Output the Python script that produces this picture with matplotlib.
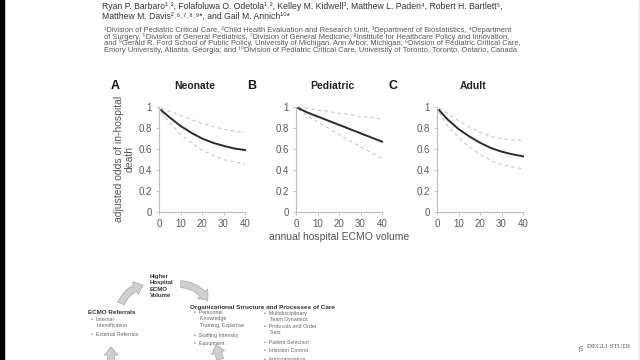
import numpy as np
import matplotlib
matplotlib.use("Agg")
import matplotlib.pyplot as plt
from matplotlib.patches import Rectangle, FancyArrowPatch

plt.rcParams['font.family'] = ['Liberation Sans', 'DejaVu Sans']

# ---- data ----
volume = [1, 5, 10, 15, 20, 25, 30, 35, 40]

neo_odds = [0.97, 0.90, 0.82, 0.755, 0.70, 0.66, 0.63, 0.605, 0.59]
neo_hi = [0.99, 0.96, 0.92, 0.88, 0.845, 0.815, 0.79, 0.77, 0.755]
neo_lo = [0.95, 0.85, 0.74, 0.66, 0.59, 0.54, 0.50, 0.475, 0.46]

ped_odds = [0.99, 0.95, 0.91, 0.87, 0.83, 0.79, 0.75, 0.71, 0.67]
ped_hi = [1.0, 0.99, 0.97, 0.96, 0.94, 0.93, 0.91, 0.90, 0.885]
ped_lo = [0.98, 0.92, 0.86, 0.80, 0.74, 0.68, 0.62, 0.565, 0.51]

adu_odds = [0.97, 0.88, 0.79, 0.72, 0.66, 0.61, 0.575, 0.55, 0.53]
adu_hi = [0.99, 0.94, 0.87, 0.81, 0.76, 0.72, 0.70, 0.685, 0.68]
adu_lo = [0.95, 0.82, 0.71, 0.62, 0.55, 0.49, 0.45, 0.43, 0.41]

panels = [('A', 'Neonate', neo_odds, neo_hi, neo_lo),
          ('B', 'Pediatric', ped_odds, ped_hi, ped_lo),
          ('C', 'Adult', adu_odds, adu_hi, adu_lo)]
panel_left = [159, 296, 437]   # pixel x of volume = 0

W, H = 640, 360
fig = plt.figure(figsize=(6.4, 3.6), dpi=100)
fig.patch.set_facecolor('white')

def fx(px):
    return px / W

def fy(py):
    return 1 - py / H

# black strip at left edge of the screenshot, faint line at right
fig.add_artist(Rectangle((0, 0), fx(4), 1, transform=fig.transFigure,
                         color='black', zorder=5))
fig.add_artist(Rectangle((fx(638.5), 0), fx(1), 1, transform=fig.transFigure,
                         color='#e6e6e6', zorder=5))

# ---- header text ----
fig.text(fx(102), fy(6.5),
         'Ryan P. Barbaro\u00b9\u02d2\u00b2, Folafoluwa O. Odetola\u00b9\u02d2\u00b2, '
         'Kelley M. Kidwell\u00b3, Matthew L. Paden\u2074, Robert H. Bartlett\u2075,',
         fontsize=6.2, color='#333333', va='center')
fig.text(fx(102), fy(16.5),
         'Matthew M. Davis\u00b2\u02d2\u2076\u02d2\u2077\u02d2\u2078\u02d2\u2079*, '
         'and Gail M. Annich\u00b9\u2070*',
         fontsize=6.2, color='#333333', va='center')
affil = [
    '\u00b9Division of Pediatric Critical Care, \u00b2Child Health Evaluation and Research Unit, '
    '\u00b3Department of Biostatistics, \u2074Department',
    'of Surgery, \u2075Division of General Pediatrics, \u2077Division of General Medicine, '
    '\u2078Institute for Healthcare Policy and Innovation,',
    'and \u2079Gerald R. Ford School of Public Policy, University of Michigan, Ann Arbor, Michigan; '
    '\u2076Division of Pediatric Critical Care,',
    'Emory University, Atlanta, Georgia; and \u00b9\u2070Division of Pediatric Critical Care, '
    'University of Toronto, Toronto, Ontario, Canada',
]
fig.text(fx(104), fy(40.3), '\n'.join(affil), fontsize=5.45, color='#555555',
         va='center', linespacing=0.78)

# ---- three panels ----
for (letter, title, odds, hi, lo), left in zip(panels, panel_left):
    ax = fig.add_axes([fx(left), fy(212), fx(86), 105 / H])
    ax.plot(volume, hi, color='#c4c4c4', lw=0.8, ls=(0, (3, 3)), clip_on=False)
    ax.plot(volume, lo, color='#c4c4c4', lw=0.8, ls=(0, (3, 3)), clip_on=False)
    ax.plot(volume, odds, color='#2b2b2b', lw=1.4, clip_on=False)
    ax.set_xlim(0, 40)
    ax.set_ylim(0, 1)
    ax.set_xticks([0, 10, 20, 30, 40])
    ax.set_yticks([0, 0.2, 0.4, 0.6, 0.8, 1])
    ax.set_yticklabels(['0', '0.2', '0.4', '0.6', '0.8', '1'])
    for s in ['top', 'right']:
        ax.spines[s].set_visible(False)
    for s in ['left', 'bottom']:
        ax.spines[s].set_color('#bdbdbd')
        ax.spines[s].set_linewidth(0.8)
    ax.tick_params(labelsize=7, colors='#bdbdbd', labelcolor='#5a5a5a',
                   length=2, width=0.6, pad=3)
    ax.set_facecolor('none')
    fig.text(fx(left + 36), fy(86), title, fontsize=7.5, fontweight='bold',
             color='#222222', ha='center', va='center')
    fig.text(fx(left - 44), fy(86), letter, fontsize=9, fontweight='bold',
             color='#111111', ha='center', va='center')

fig.text(fx(124), fy(159), 'adjusted odds of in-hospital\ndeath', rotation=90,
         fontsize=7.5, color='#555555', ha='center', va='center',
         multialignment='center', linespacing=1.05)
fig.text(fx(339), fy(237), 'annual hospital ECMO volume', fontsize=7.5,
         color='#555555', ha='center', va='center')

# ---- conceptual diagram (bottom) ----
def arrow(p0, p1, rad):
    a = FancyArrowPatch((fx(p0[0]), fy(p0[1])), (fx(p1[0]), fy(p1[1])),
                        transform=fig.transFigure,
                        arrowstyle='simple,head_length=6,head_width=10,tail_width=5',
                        connectionstyle='arc3,rad=%s' % rad,
                        facecolor='#cfcfcf', edgecolor='#a8a8a8', lw=0.5)
    fig.add_artist(a)

arrow((120, 306), (146, 285), -0.3)
arrow((178, 284), (209, 303), -0.3)
arrow((221, 362), (215, 342), 0.0)
arrow((111, 364), (111, 344), 0.0)

fig.text(fx(150), fy(286), 'Higher\nHospital\nECMO\nVolume', fontsize=4.3,
         fontweight='bold', color='#333333', va='center', linespacing=1.3)
fig.text(fx(88), fy(313), 'ECMO Referrals', fontsize=4.5, fontweight='bold',
         color='#333333', va='center')
fig.text(fx(91), fy(322.5), '\u2022  Internal\n    Identification', fontsize=3.8,
         color='#666666', va='center', linespacing=1.3)
fig.text(fx(91), fy(335), '\u2022  External Referrals', fontsize=3.8,
         color='#666666', va='center')

fig.text(fx(190), fy(307), 'Organizational Structure and Processes of Care',
         fontsize=4.6, fontweight='bold', color='#333333', va='center')
col1 = [(313, '\u2022  Personnel'), (318.5, '    Knowledge'),
        (326, '    Training, Expertise'), (335, '\u2022  Staffing Intensity'),
        (343, '\u2022  Equipment')]
col2 = [(314, '\u2022  Multidisciplinary'), (319.5, '    Team Dynamics'),
        (327, '\u2022  Protocols and Order'), (333, '    Sets'),
        (342, '\u2022  Patient Selection'), (351, '\u2022  Infection Control'),
        (359, '\u2022  Anticoagulation')]
for yy, t in col1:
    fig.text(fx(194), fy(yy), t, fontsize=3.8, color='#666666', va='center')
for yy, t in col2:
    fig.text(fx(264), fy(yy), t, fontsize=3.8, color='#666666', va='center')

# watermark bottom right
fig.text(fx(609), fy(347), 'DEGLI STUDI', fontsize=5, family='Liberation Serif',
         color='#555555', ha='center', va='center')
fig.text(fx(582), fy(347), 'TA', fontsize=4.5, family='Liberation Serif',
         color='#555555', rotation=90, ha='center', va='center')

fig.savefig('out.png', dpi=100)
